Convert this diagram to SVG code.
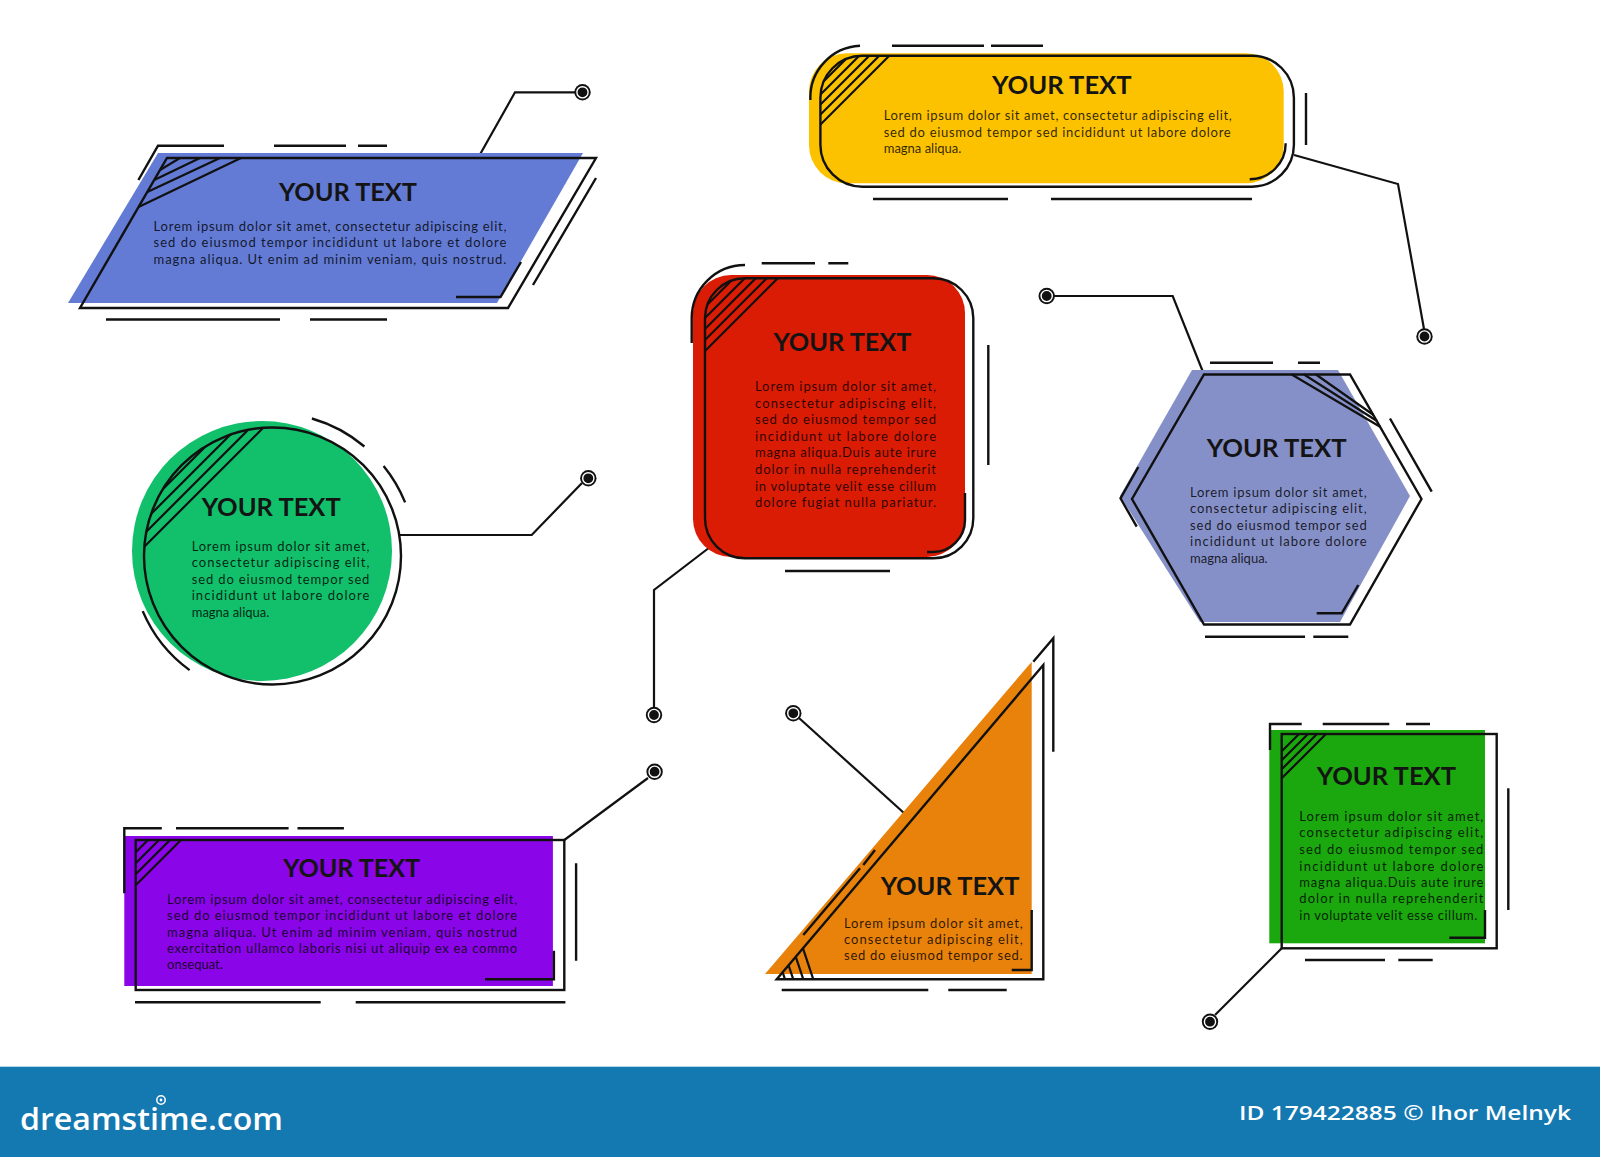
<svg xmlns="http://www.w3.org/2000/svg" width="1600" height="1157" viewBox="0 0 1600 1157">
<style>
.ln{fill:none;stroke:#111;stroke-width:2.4;stroke-linecap:butt;stroke-linejoin:miter}
.hl{fill:none;stroke:#111;stroke-width:2.2}
.t{font-family:Lato,'Liberation Sans',sans-serif;font-weight:700;font-size:24px;fill:#141414}
.b{font-family:Lato,'Liberation Sans',sans-serif;font-size:13px;fill:#000;fill-opacity:0.82}
.cn{fill:none;stroke:#111;stroke-width:2.2}
</style>
<defs>
<g id="dot"><circle r="8.2" fill="#111"/><circle r="5.6" fill="#111" stroke="#fff" stroke-width="1.4"/></g>
<clipPath id="cY"><rect x="820.4" y="55.7" width="473.5" height="131" rx="42"/></clipPath>
<clipPath id="cG"><circle cx="272.5" cy="556" r="128.5"/></clipPath>
<clipPath id="cR"><rect x="705" y="278.3" width="268.3" height="280" rx="40"/></clipPath>
</defs>
<rect width="1600" height="1157" fill="#fff"/>

<g id="connectors">
<path class="cn" d="M478,158 L515,92.3 H575"/>
<use href="#dot" x="582.5" y="92.3"/>
<path class="cn" d="M1294,155 L1398,184 L1424,329"/>
<use href="#dot" x="1424.5" y="336.5"/>
<path class="cn" d="M399.5,535 H531.7 L582,483"/>
<use href="#dot" x="588.3" y="478.3"/>
<path class="cn" d="M714,544 L654,590 V707"/>
<use href="#dot" x="654" y="715"/>
<path class="cn" d="M1204,374.5 L1172.7,296 H1054"/>
<use href="#dot" x="1046.7" y="296"/>
<path class="cn" d="M564.3,840 L648,778"/>
<use href="#dot" x="654.6" y="771.7"/>
<path class="cn" d="M911.7,820 L799,718"/>
<use href="#dot" x="793.3" y="713.3"/>
<path class="cn" d="M1281.7,948.3 L1215,1015"/>
<use href="#dot" x="1210" y="1021.7"/>
</g>

<g id="node-blue">
<polygon points="158,153 583,153 497,303 68,303" fill="#637bd4"/>
<polygon class="ln" points="167,158 596,158 508,308 80,308"/>
<path class="hl" d="M180,158 L160,170 M200,158 L154.2,180 M220,158 L147.3,192 M241,158 L138.5,207"/>
<path class="ln" d="M224,145.7 H158 L138.4,180 M274,145.7 H346 M358,145.7 H387 M596,178 L533,285 M521,262 L500.5,297 H456 M106,319.5 H280 M310,319.5 H387"/>
<text class="t" x="279" y="200.5" textLength="138" lengthAdjust="spacingAndGlyphs">YOUR TEXT</text>
<text class="b" x="153.6" y="230.7" textLength="352.8">Lorem ipsum dolor sit amet, consectetur adipiscing elit,</text>
<text class="b" x="153.6" y="247.3" textLength="352.8">sed do eiusmod tempor incididunt  ut labore  et  dolore</text>
<text class="b" x="153.6" y="264" textLength="352.8">magna aliqua. Ut enim ad minim  veniam, quis  nostrud.</text>
</g>

<g id="node-yellow">
<rect x="809" y="53.3" width="474.7" height="130" rx="38" fill="#fcc200"/>
<rect class="ln" x="820.4" y="55.7" width="473.5" height="131" rx="42"/>
<g clip-path="url(#cY)"><path class="hl" d="M900,45 L805,140 M890,45 L805,130 M880,45 L805,120 M870,45 L805,110 M860,45 L805,100"/></g>
<path class="ln" d="M810.4,100 A52,52 0 0 1 860,45.8 M892,45.7 H984 M991,45.7 H1043 M1306,93 V145 M1285.7,143.3 A36,36 0 0 1 1249.7,179.3 M873,199 H1008 M1051,199 H1252"/>
<text class="t" x="992" y="93.5" textLength="139.6" lengthAdjust="spacingAndGlyphs">YOUR TEXT</text>
<text class="b" x="883.7" y="120" textLength="348">Lorem ipsum dolor sit amet, consectetur adipiscing elit,</text>
<text class="b" x="883.7" y="136.7" textLength="347">sed do eiusmod tempor sed incididunt ut labore dolore</text>
<text class="b" x="883.7" y="152.7">magna aliqua.</text>
</g>

<g id="node-green-circle">
<circle cx="262" cy="551" r="130" fill="#12bf6a"/>
<circle class="ln" cx="272.5" cy="556" r="128.5"/>
<g clip-path="url(#cG)"><path class="hl" d="M271,420 L135,556 M258,420 L135,543 M245,420 L135,530 M232,420 L135,517"/></g>
<path class="ln" d="M311.9,418.5 A143,143 0 0 1 364.4,446.5 M383.6,466 A143,143 0 0 1 405.1,502.4 M189.6,670.1 A141,141 0 0 1 142.7,611.1"/>
<text class="t" x="201.7" y="516" textLength="139" lengthAdjust="spacingAndGlyphs">YOUR TEXT</text>
<text class="b" x="191.7" y="550.7" textLength="177.7">Lorem ipsum dolor sit amet,</text>
<text class="b" x="191.7" y="567.3" textLength="177.7">consectetur  adipiscing  elit,</text>
<text class="b" x="191.7" y="584" textLength="177.7">sed do eiusmod tempor sed</text>
<text class="b" x="191.7" y="600" textLength="177.7">incididunt  ut labore  dolore</text>
<text class="b" x="191.7" y="616.7">magna aliqua.</text>
</g>

<g id="node-red">
<rect x="693" y="275" width="272" height="282" rx="38" fill="#db1c05"/>
<rect class="ln" x="705" y="278.3" width="268.3" height="280" rx="40"/>
<g clip-path="url(#cR)"><path class="hl" d="M786,270 L700,356 M775,270 L700,345 M764,270 L700,334 M753,270 L700,323 M742,270 L700,312"/></g>
<path class="ln" d="M691.7,343 V318.3 A53.3,53.3 0 0 1 745,265 M761.7,263.3 H815 M828.3,263.3 H848.3 M988.3,345 V465 M965,493 V520 A32,32 0 0 1 933,552 H927 M785,571 H890"/>
<text class="t" x="773.5" y="350.7" textLength="138" lengthAdjust="spacingAndGlyphs">YOUR TEXT</text>
<text class="b" x="755" y="391" textLength="181">Lorem ipsum dolor sit amet,</text>
<text class="b" x="755" y="407.7" textLength="181">consectetur  adipiscing  elit,</text>
<text class="b" x="755" y="424" textLength="181">sed do eiusmod tempor sed</text>
<text class="b" x="755" y="440.7" textLength="181">incididunt  ut labore  dolore</text>
<text class="b" x="755" y="457.3" textLength="181">magna aliqua.Duis aute irure</text>
<text class="b" x="755" y="474" textLength="181">dolor  in  nulla reprehenderit</text>
<text class="b" x="755" y="490.7" textLength="181">in voluptate velit esse cillum</text>
<text class="b" x="755" y="507" textLength="181">dolore  fugiat nulla pariatur.</text>
</g>

<g id="node-hexagon">
<polygon points="1192,370 1338,370 1410,496 1340,622 1200,622 1120,496" fill="#8690c8"/>
<polygon class="ln" points="1204,374.5 1350,374.5 1421.5,499 1350,624.5 1204,624.5 1132,499"/>
<path class="hl" d="M1291.7,374.5 L1380.5,427 M1304,374.5 L1377,421 M1316,374.5 L1373.5,415"/>
<path class="ln" d="M1210,362.7 H1273 M1298,362.7 H1320 M1390,418.5 L1431.7,491.7 M1138.3,467 L1120.5,498.3 L1136.7,526.7 M1358.3,585 L1341.7,613.3 H1316.7 M1205,636.7 H1305 M1313.3,636.7 H1348.3"/>
<text class="t" x="1206.7" y="456.7" textLength="140" lengthAdjust="spacingAndGlyphs">YOUR TEXT</text>
<text class="b" x="1190" y="496.7" textLength="176.7">Lorem ipsum dolor sit amet,</text>
<text class="b" x="1190" y="513.3" textLength="176.7">consectetur  adipiscing  elit,</text>
<text class="b" x="1190" y="530" textLength="176.7">sed do eiusmod tempor sed</text>
<text class="b" x="1190" y="546" textLength="176.7">incididunt  ut labore  dolore</text>
<text class="b" x="1190" y="562.7">magna aliqua.</text>
</g>

<g id="node-purple">
<rect x="124.3" y="836" width="428.6" height="150" fill="#8a05e8"/>
<rect class="ln" x="135.7" y="840" width="428.6" height="150"/>
<path class="hl" d="M181,840 L135.7,885.3 M170,840 L135.7,874.3 M159,840 L135.7,863.3 M148,840 L135.7,852.3"/>
<path class="ln" d="M124.3,893.3 V828.3 H161.8 M176,828.3 H288.6 M297.5,828.3 H343.9 M576.1,863.3 V960.7 M553.9,950.7 V979.3 H485 M135,1002.3 H320.7 M355.7,1002.3 H565.4"/>
<text class="t" x="283.2" y="877.3" textLength="136.8" lengthAdjust="spacingAndGlyphs">YOUR TEXT</text>
<text class="b" x="167.1" y="904" textLength="350">Lorem ipsum dolor sit amet, consectetur adipiscing elit,</text>
<text class="b" x="167.1" y="920" textLength="350">sed do eiusmod tempor incididunt  ut labore  et  dolore</text>
<text class="b" x="167.1" y="936.7" textLength="350">magna aliqua. Ut enim ad minim  veniam, quis  nostrud</text>
<text class="b" x="167.1" y="952.7" textLength="350">exercitation ullamco laboris nisi ut aliquip  ex ea commo</text>
<text class="b" x="167.1" y="969.3">onsequat.</text>
</g>

<g id="node-triangle">
<polygon points="765,974 1031.7,661.7 1031.7,974" fill="#e8820a"/>
<polygon class="ln" points="776.7,979.3 1043.3,665 1043.3,979.3"/>
<path class="hl" d="M785,979.3 L782.7,972.3 M793.3,979.3 L788.6,965.3 M803.3,979.3 L795.8,956.8 M813.3,979.3 L803,948.4"/>
<path class="ln" d="M1033.3,661.7 L1053.3,638.3 V751.7 M803.3,935 L860,868.3 M863.3,865 L875,850 M1031.7,910 V970 H1011.7 M781.7,990 H928.3 M948.3,990 H1006.7"/>
<text class="t" x="880.7" y="895" textLength="138.7" lengthAdjust="spacingAndGlyphs">YOUR TEXT</text>
<text class="b" x="844" y="927.7" textLength="178.7">Lorem ipsum dolor sit amet,</text>
<text class="b" x="844" y="944" textLength="178.7">consectetur  adipiscing  elit,</text>
<text class="b" x="844" y="960" textLength="178.7">sed do eiusmod tempor sed.</text>
</g>

<g id="node-green-square">
<rect x="1269.3" y="730" width="215.7" height="213.3" fill="#1ba70e"/>
<rect class="ln" x="1281.7" y="734" width="215" height="214.3"/>
<path class="hl" d="M1326,734 L1281.7,778.3 M1317,734 L1281.7,769.3 M1308,734 L1281.7,760.3 M1299,734 L1281.7,751.3"/>
<path class="ln" d="M1270,750 V724 H1301.7 M1322.7,724 H1389.3 M1406,724 H1430 M1508.3,788.3 V910 M1485,910 V937.7 H1449.3 M1305,960 H1385 M1398.3,960 H1432.7"/>
<text class="t" x="1316.7" y="785" textLength="139.3" lengthAdjust="spacingAndGlyphs">YOUR TEXT</text>
<text class="b" x="1299.3" y="820.7" textLength="184">Lorem ipsum dolor sit amet,</text>
<text class="b" x="1299.3" y="837.3" textLength="184">consectetur  adipiscing  elit,</text>
<text class="b" x="1299.3" y="854" textLength="184">sed do eiusmod tempor sed</text>
<text class="b" x="1299.3" y="870.7" textLength="184">incididunt  ut labore  dolore</text>
<text class="b" x="1299.3" y="886.7" textLength="184">magna aliqua.Duis aute irure</text>
<text class="b" x="1299.3" y="903.3" textLength="184">dolor  in  nulla reprehenderit</text>
<text class="b" x="1299.3" y="920" textLength="178">in voluptate velit esse cillum.</text>
</g>

<g id="footer">
<rect x="0" y="1066.7" width="1600" height="90.3" fill="#1478b1"/>
<text x="20" y="1130" font-family="'Open Sans','Liberation Sans',sans-serif" font-weight="600" font-size="30" fill="#fff" textLength="263" lengthAdjust="spacingAndGlyphs">dreamstime.com</text>
<circle cx="161" cy="1100" r="4.2" fill="none" stroke="#fff" stroke-width="1.5"/>
<circle cx="161" cy="1100" r="1.4" fill="#fff"/>
<text x="1239" y="1120" font-family="'Open Sans','Liberation Sans',sans-serif" font-weight="600" font-size="20" fill="#fff" textLength="332" lengthAdjust="spacingAndGlyphs">ID 179422885 © Ihor Melnyk</text>
</g>
</svg>
